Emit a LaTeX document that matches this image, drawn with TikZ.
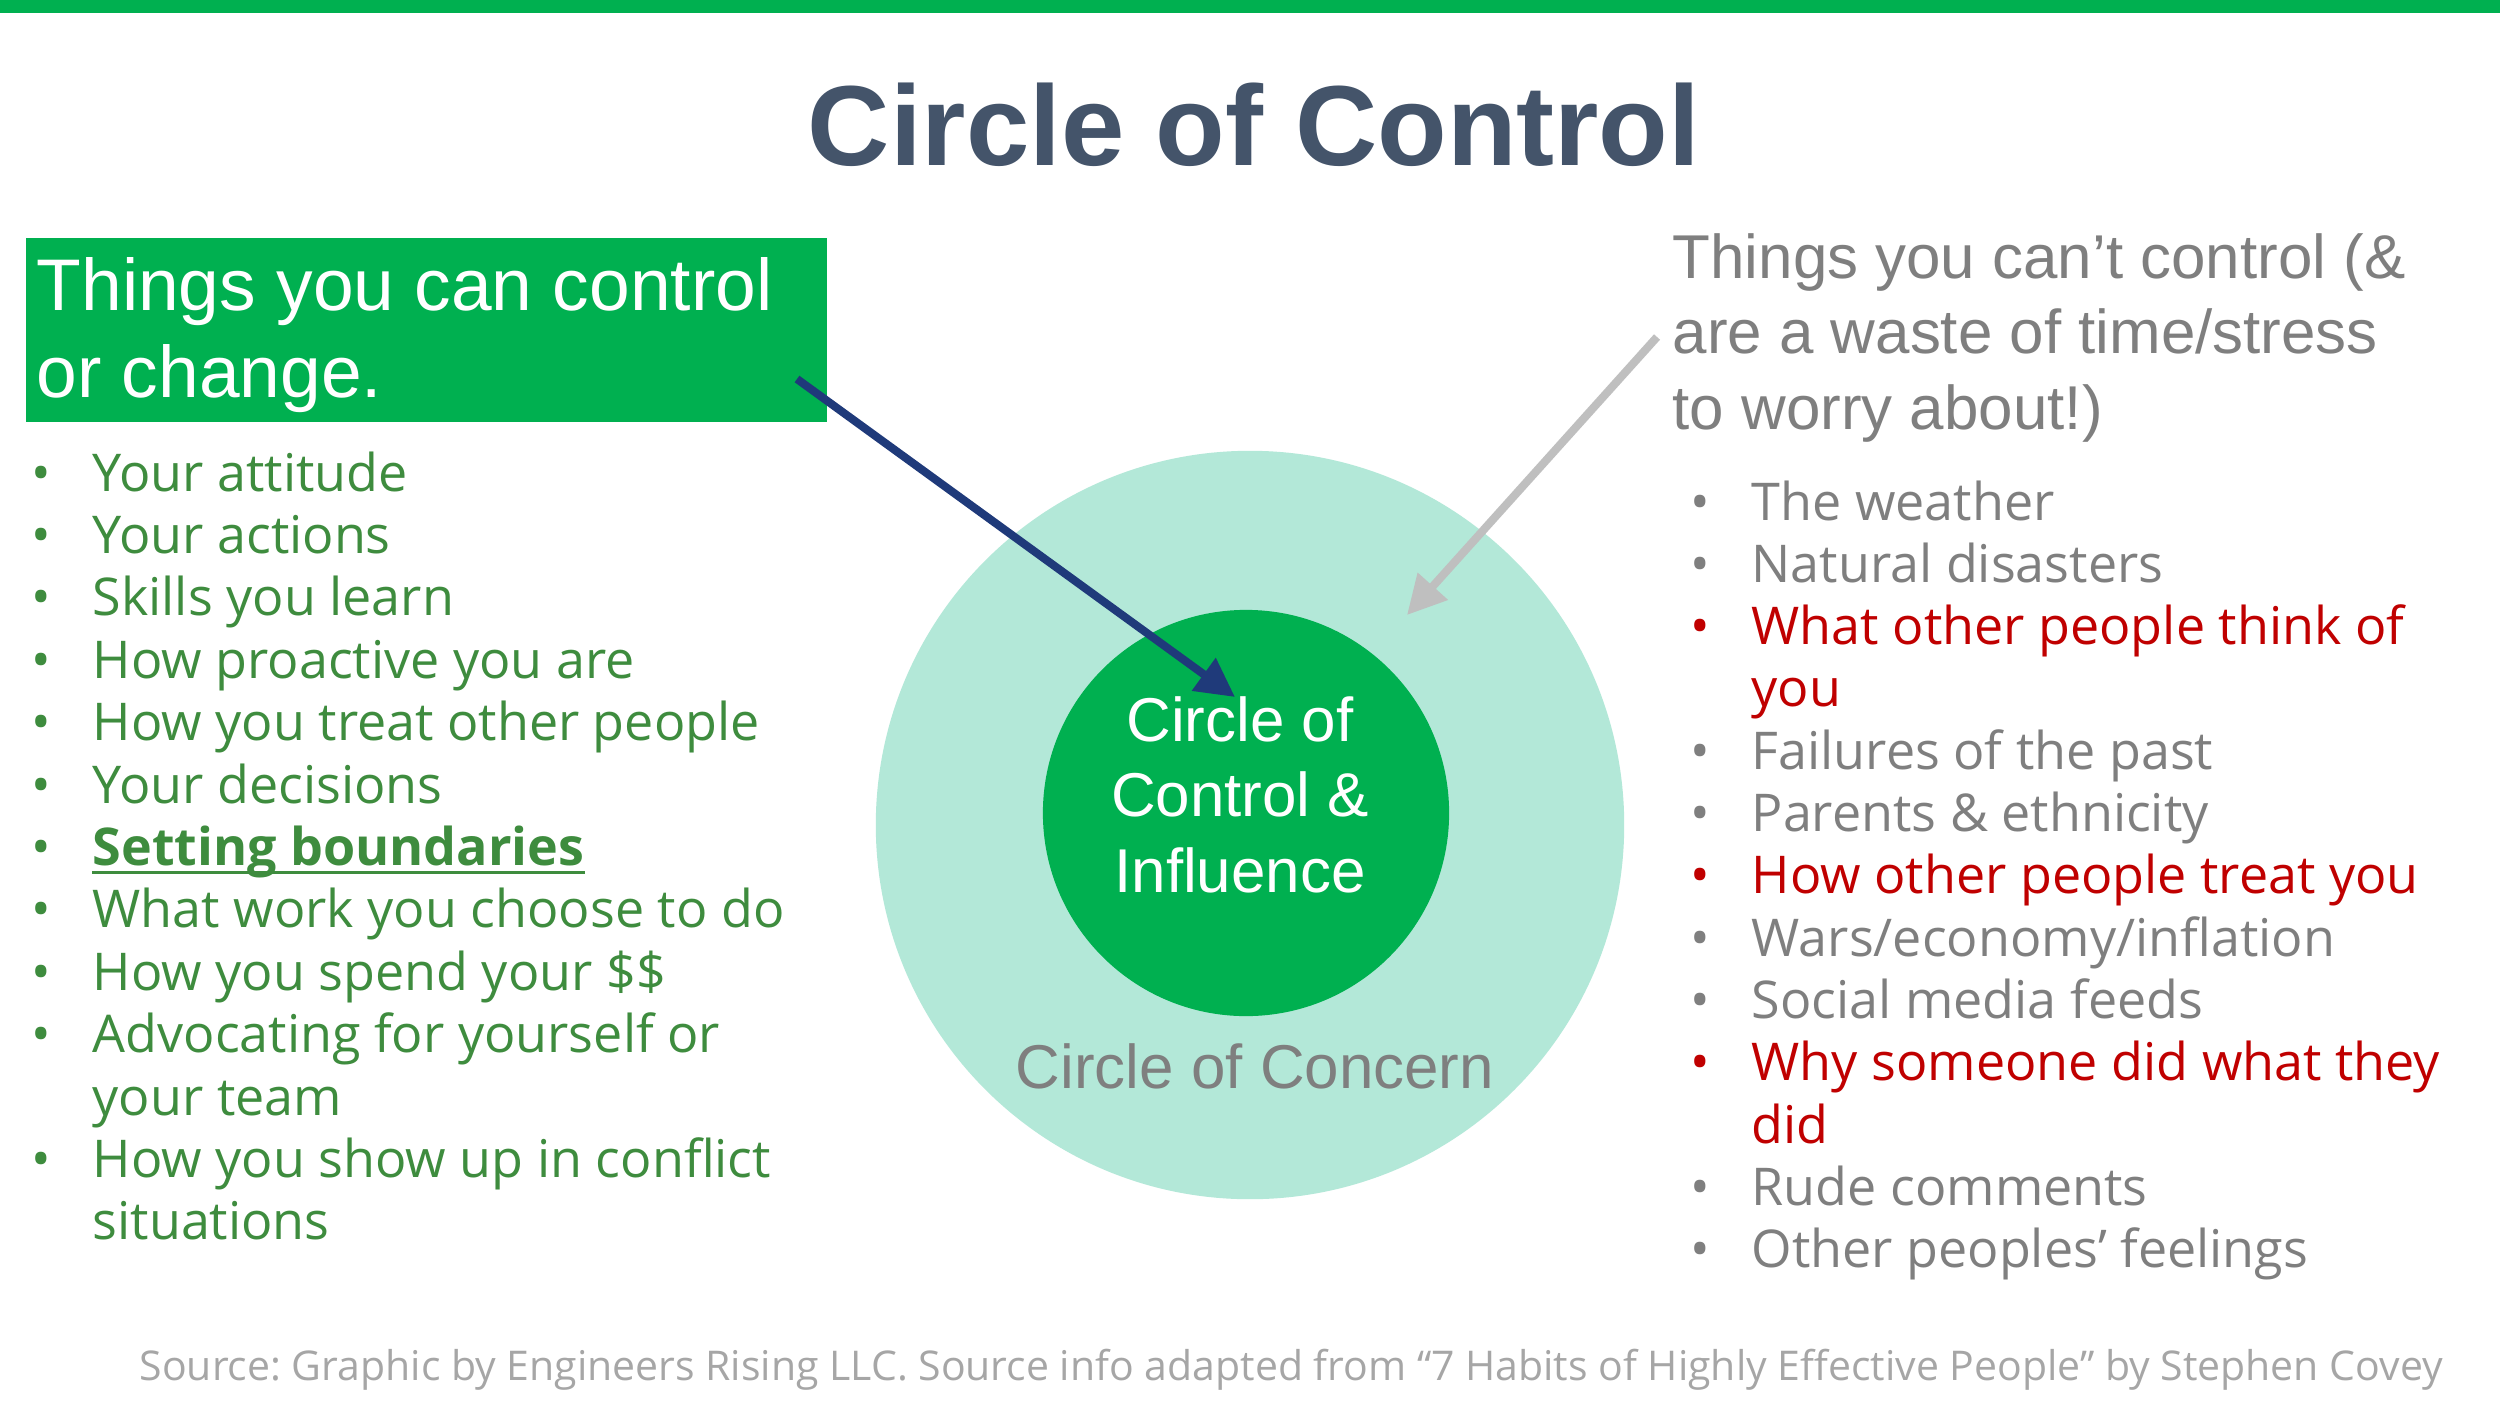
\documentclass[tikz,border=0pt]{standalone}
\usepackage{fontspec}
\setmainfont{Liberation Sans}
\newfontfamily\opensans{Open Sans}
\usepackage{tikz}
\usetikzlibrary{positioning,arrows.meta}
\definecolor{ctlgreen}{HTML}{00B050}
\definecolor{mint}{HTML}{B3E8D8}
\definecolor{slate}{HTML}{44546A}
\definecolor{leafgreen}{HTML}{3E8C3E}
\definecolor{midgray}{HTML}{7F7F7F}
\definecolor{darkred}{HTML}{C00000}
\definecolor{navy}{HTML}{1F3A7A}
\definecolor{lightgray}{HTML}{BFBFBF}
\definecolor{footgray}{HTML}{A6A6A6}
\frenchspacing

\begin{document}
\begin{tikzpicture}[x = 0.01cm, y = -0.01cm, >= {Triangle[length = 11pt, width = 11pt]},
  item/.style = {anchor = base west, inner sep = 0pt, align = left, font = \opensans\fontsize{14.8}{17.75}\selectfont},
  dot/.style = {anchor = base, inner sep = 0pt, font = \opensans\fontsize{14.8}{17.75}\selectfont},
  big/.style = {inner sep = 0pt, font = \fontsize{17.6}{21.34}\selectfont},
  pointer/.style = {->, line width = 2.3pt}]
	\useasboundingbox (0,0) rectangle (2500,1406);
	\fill[white] (0,0) rectangle (2500,1406);
	\fill[ctlgreen] (0,0) rectangle (2500,13);
	\node[inner sep = 0pt, anchor = base, text = slate, font = \bfseries\fontsize{32.4}{38}\selectfont] (title) at (1254,165) {Circle of Control};
	% left box and list (multi-line nodes sit on their last baseline)
	\node[fill = ctlgreen, inner sep = 0pt, anchor = north west, minimum width = 8.01cm, minimum height = 1.84cm] (canbox) at (25,237) {};
	\node[inner sep = 0pt, anchor = base west, align = left, text = white, font = \fontsize{20.8}{24.47}\selectfont] (canhead) at (36,397) {Things you can control\\or change.};
	\foreach \k/\j/\txt in {0/0/Your attitude, 1/1/Your actions, 2/2/Skills you learn, 3/3/How proactive you are, 4/4/How you treat other people, 5/5/Your decisions, 6/6/{\textbf{Setting boundaries}}, 7/7/What work you choose to do, 8/8/How you spend your \$\$, 9/10/{Advocating for yourself or\\your team}, 11/12/{How you show up in conflict\\situations}} {
		\node[dot, text = leafgreen] (cdot\k) at (41,{491+62.4*\k}) {•};
		\node[item, text = leafgreen] (can\k) at (92,{491+62.4*\j}) {\txt};
	}
	\draw[leafgreen, line width = 0.85pt] ([yshift = -2pt]can6.base west) -- ([yshift = -2pt]can6.base east);
	% circles
	\node[circle, fill = mint, inner sep = 0pt, minimum size = 7.48cm] (concern) at (1250,825) {};
	\node[circle, fill = ctlgreen, inner sep = 0pt, minimum size = 4.06cm] (influence) at (1246,813) {};
	\node[big, anchor = base, text = white, align = center] (inflabel) at (1240,892) {Circle of\\Control \&\\Influence};
	\node[big, anchor = base, text = midgray] (conclabel) at (1255,1088) {Circle of Concern};
	% right header and list
	\node[big, anchor = base west, align = left, text = midgray] (canthead) at (1672,429) {Things you can’t control (\&\\are a waste of time/stress\\to worry about!)};
	\foreach \k/\j/\clr/\txt in {0/0/midgray/The weather, 1/1/midgray/Natural disasters, 2/3/darkred/{What other people think of\\you}, 4/4/midgray/Failures of the past, 5/5/midgray/Parents \& ethnicity, 6/6/darkred/How other people treat you, 7/7/midgray/{Wars/economy/inflation}, 8/8/midgray/Social media feeds, 9/10/darkred/{Why someone did what they\\did}, 11/11/midgray/Rude comments, 12/12/midgray/Other peoples’ feelings} {
		\node[dot, text = \clr] (ndot\k) at (1700,{520+62.3*\k}) {•};
		\node[item, text = \clr] (cant\k) at (1751,{520+62.3*\j}) {\txt};
	}
	% arrows
	\coordinate (navystart) at (797,379);
	\coordinate (navytip) at (1235,697);
	\coordinate (graystart) at (1657,337);
	\coordinate (graytip) at (1407,615);
	\draw[pointer, navy] (navystart) -- (navytip);
	\draw[pointer, lightgray] (graystart) -- (graytip);
	\node[inner sep = 0pt, anchor = base west, text = footgray, font = \opensans\fontsize{11.65}{14}\selectfont] (source) at (139,1380) {Source: Graphic by Engineers Rising LLC. Source info adapted from “7 Habits of Highly Effective People” by Stephen Covey};
\end{tikzpicture}
\end{document}
